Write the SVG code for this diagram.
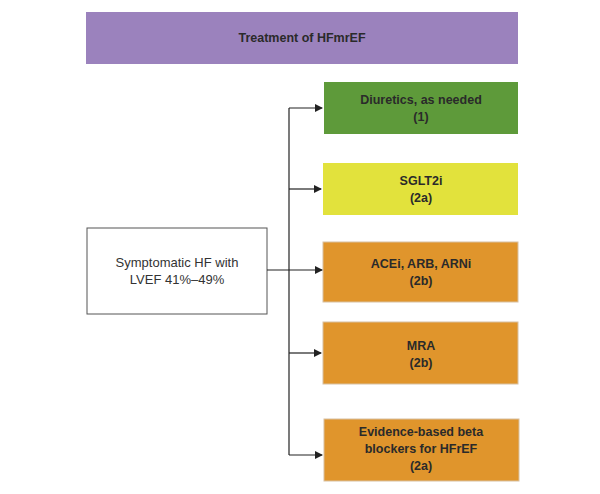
<svg xmlns="http://www.w3.org/2000/svg" width="600" height="494" viewBox="0 0 600 494">
<defs>
<style>
.t{font-family:"Liberation Sans",Arial,sans-serif;font-size:12.5px;font-weight:bold;fill:#2a2a2a;text-anchor:middle}
.n{font-family:"Liberation Sans",Arial,sans-serif;font-size:13px;fill:#333;text-anchor:middle}
.o{fill:#e0952c;stroke:#d8c0a0;stroke-width:1}
.c{fill:none;stroke:#222;stroke-width:1.2}
</style>
<marker id="a" markerWidth="8" markerHeight="8" refX="7" refY="4" orient="auto" markerUnits="userSpaceOnUse"><path d="M0,0L8,4L0,8z" fill="#222"/></marker>
</defs>
<rect width="600" height="494" fill="#fff"/>
<g id="title"><rect x="86" y="12" width="432" height="52" fill="#9b82bd"/><text class="t" x="302" y="42">Treatment of HFmrEF</text></g>
<g id="patient"><rect x="87" y="228" width="180" height="86" fill="#fff" stroke="#555" stroke-width="1"/><text class="n" x="177" y="267">Symptomatic HF with</text><text class="n" x="177" y="284">LVEF 41%–49%</text></g>
<g id="diuretics"><rect x="324" y="82" width="194" height="52" fill="#5e9a3a"/><text class="t" x="421" y="104">Diuretics, as needed</text><text class="t" x="421" y="121">(1)</text></g>
<g id="sglt2i"><rect x="323" y="163" width="195" height="52" fill="#e2e23c"/><text class="t" x="421" y="185">SGLT2i</text><text class="t" x="421" y="202">(2a)</text></g>
<g id="acei"><rect class="o" x="323" y="242" width="195" height="60"/><text class="t" x="421" y="268">ACEi, ARB, ARNi</text><text class="t" x="421" y="285">(2b)</text></g>
<g id="mra"><rect class="o" x="323" y="322" width="195" height="62"/><text class="t" x="421" y="350">MRA</text><text class="t" x="421" y="367">(2b)</text></g>
<g id="beta"><rect class="o" x="324" y="419" width="195" height="62"/><text class="t" x="421" y="436">Evidence-based beta</text><text class="t" x="421" y="453">blockers for HFrEF</text><text class="t" x="421" y="470">(2a)</text></g>
<g id="connectors">
<path class="c" d="M267,270H322" marker-end="url(#a)"/>
<path class="c" d="M289,108V455"/>
<path class="c" d="M289,108H322" marker-end="url(#a)"/>
<path class="c" d="M289,189H321" marker-end="url(#a)"/>
<path class="c" d="M289,353H321" marker-end="url(#a)"/>
<path class="c" d="M289,455H322" marker-end="url(#a)"/>
</g>
</svg>
